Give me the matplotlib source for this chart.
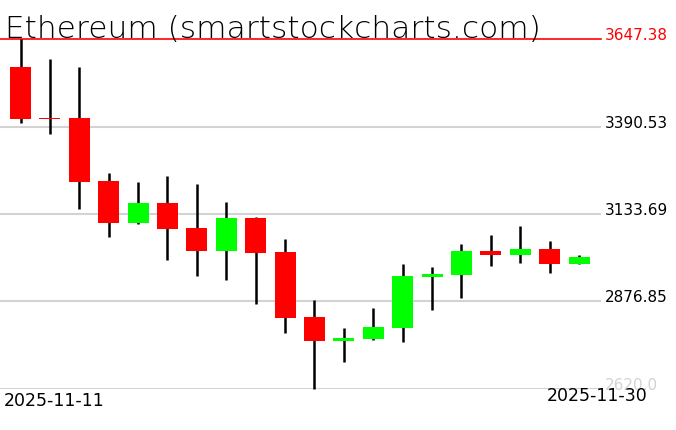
import numpy as np
import matplotlib
matplotlib.use("Agg")
import matplotlib.pyplot as plt

dates = ["2025-11-11", "2025-11-30"]
opens = [3565.2, 3414.6, 3415.5, 3231.5, 3108.2, 3166.0, 3092.6, 3026.0, 3122.0, 3022.1,
         2831.3, 2761.8, 2767.6, 2799.9, 2949.6, 2955.5, 3025.0, 3014.3, 3031.0, 2987.8]
highs = [3647.38, 3588.7, 3565.2, 3254.0, 3227.6, 3245.2, 3221.8, 3168.9, 3125.8, 3060.3,
         2881.3, 2799.0, 2857.8, 2986.9, 2977.2, 3045.6, 3072.0, 3098.5, 3054.4, 3013.3]
lows = [3401.7, 3369.4, 3148.4, 3067.2, 3105.2, 3000.0, 2952.6, 2940.9, 2868.6, 2785.3,
        2620.0, 2700.1, 2764.7, 2758.8, 2852.8, 2886.2, 2981.9, 2990.7, 2961.4, 2987.8]
closes = [3413.4, 3413.0, 3228.5, 3108.2, 3166.0, 3090.5, 3026.0, 3122.0, 3020.1, 2829.3,
          2761.8, 2769.7, 2802.0, 2951.7, 2956.7, 3025.0, 3014.3, 3031.0, 2987.8, 3007.4]

W, H = 676, 431
fig = plt.figure(figsize=(W / 100, H / 100), dpi=100)
ax = fig.add_axes([0, 1 - 390 / H, 601 / W, 350 / H])

lo, hi = min(lows), max(highs)
levels = np.linspace(lo, hi, 5)
n = len(opens)
x = np.arange(n)

for lv in levels[:-1]:
    ax.axhline(lv, color="#d3d3d3", lw=1.5, zorder=0)
ax.axhline(hi, color="red", lw=1.2, zorder=0, clip_on=False)

for i in range(n):
    ax.vlines(x[i], lows[i], highs[i], color="black", lw=1.8, zorder=1, clip_on=False)
    up = closes[i] >= opens[i]
    col = "#00ff00" if up else "#ff0000"
    b = min(opens[i], closes[i])
    h = max(abs(closes[i] - opens[i]), 2.5)
    ax.bar(x[i], h, bottom=b - (h - abs(closes[i] - opens[i])) / 2, width=0.72,
           color=col, zorder=2)

x0, x1 = -20.5 / 29.4, (601 - 20.5) / 29.4
ax.set_xlim(x0, x1)
ax.set_ylim(lo, hi)
ax.axis("off")

# price labels on the right
for lv in levels:
    c = "red" if lv == hi else ("#d3d3d3" if lv == lo else "black")
    s = "%.1f" % lv if lv == lo else "%.2f" % lv
    ax.text(x0 + 605 / 601 * (x1 - x0), lv, s,
            color=c, fontsize=11, va="baseline", ha="left", clip_on=False)

fig.text(5 / W, 1 - 38 / H, "Ethereum (smartstockcharts.com)", fontsize=22.5,
         fontweight="light", color="black", va="baseline", ha="left")
fig.text(4 / W, 1 - 406 / H, dates[0], fontsize=12.5, va="baseline", ha="left")
fig.text(647 / W, 1 - 401 / H, dates[1], fontsize=12.5, va="baseline", ha="right")

fig.savefig("out.png", dpi=100)
